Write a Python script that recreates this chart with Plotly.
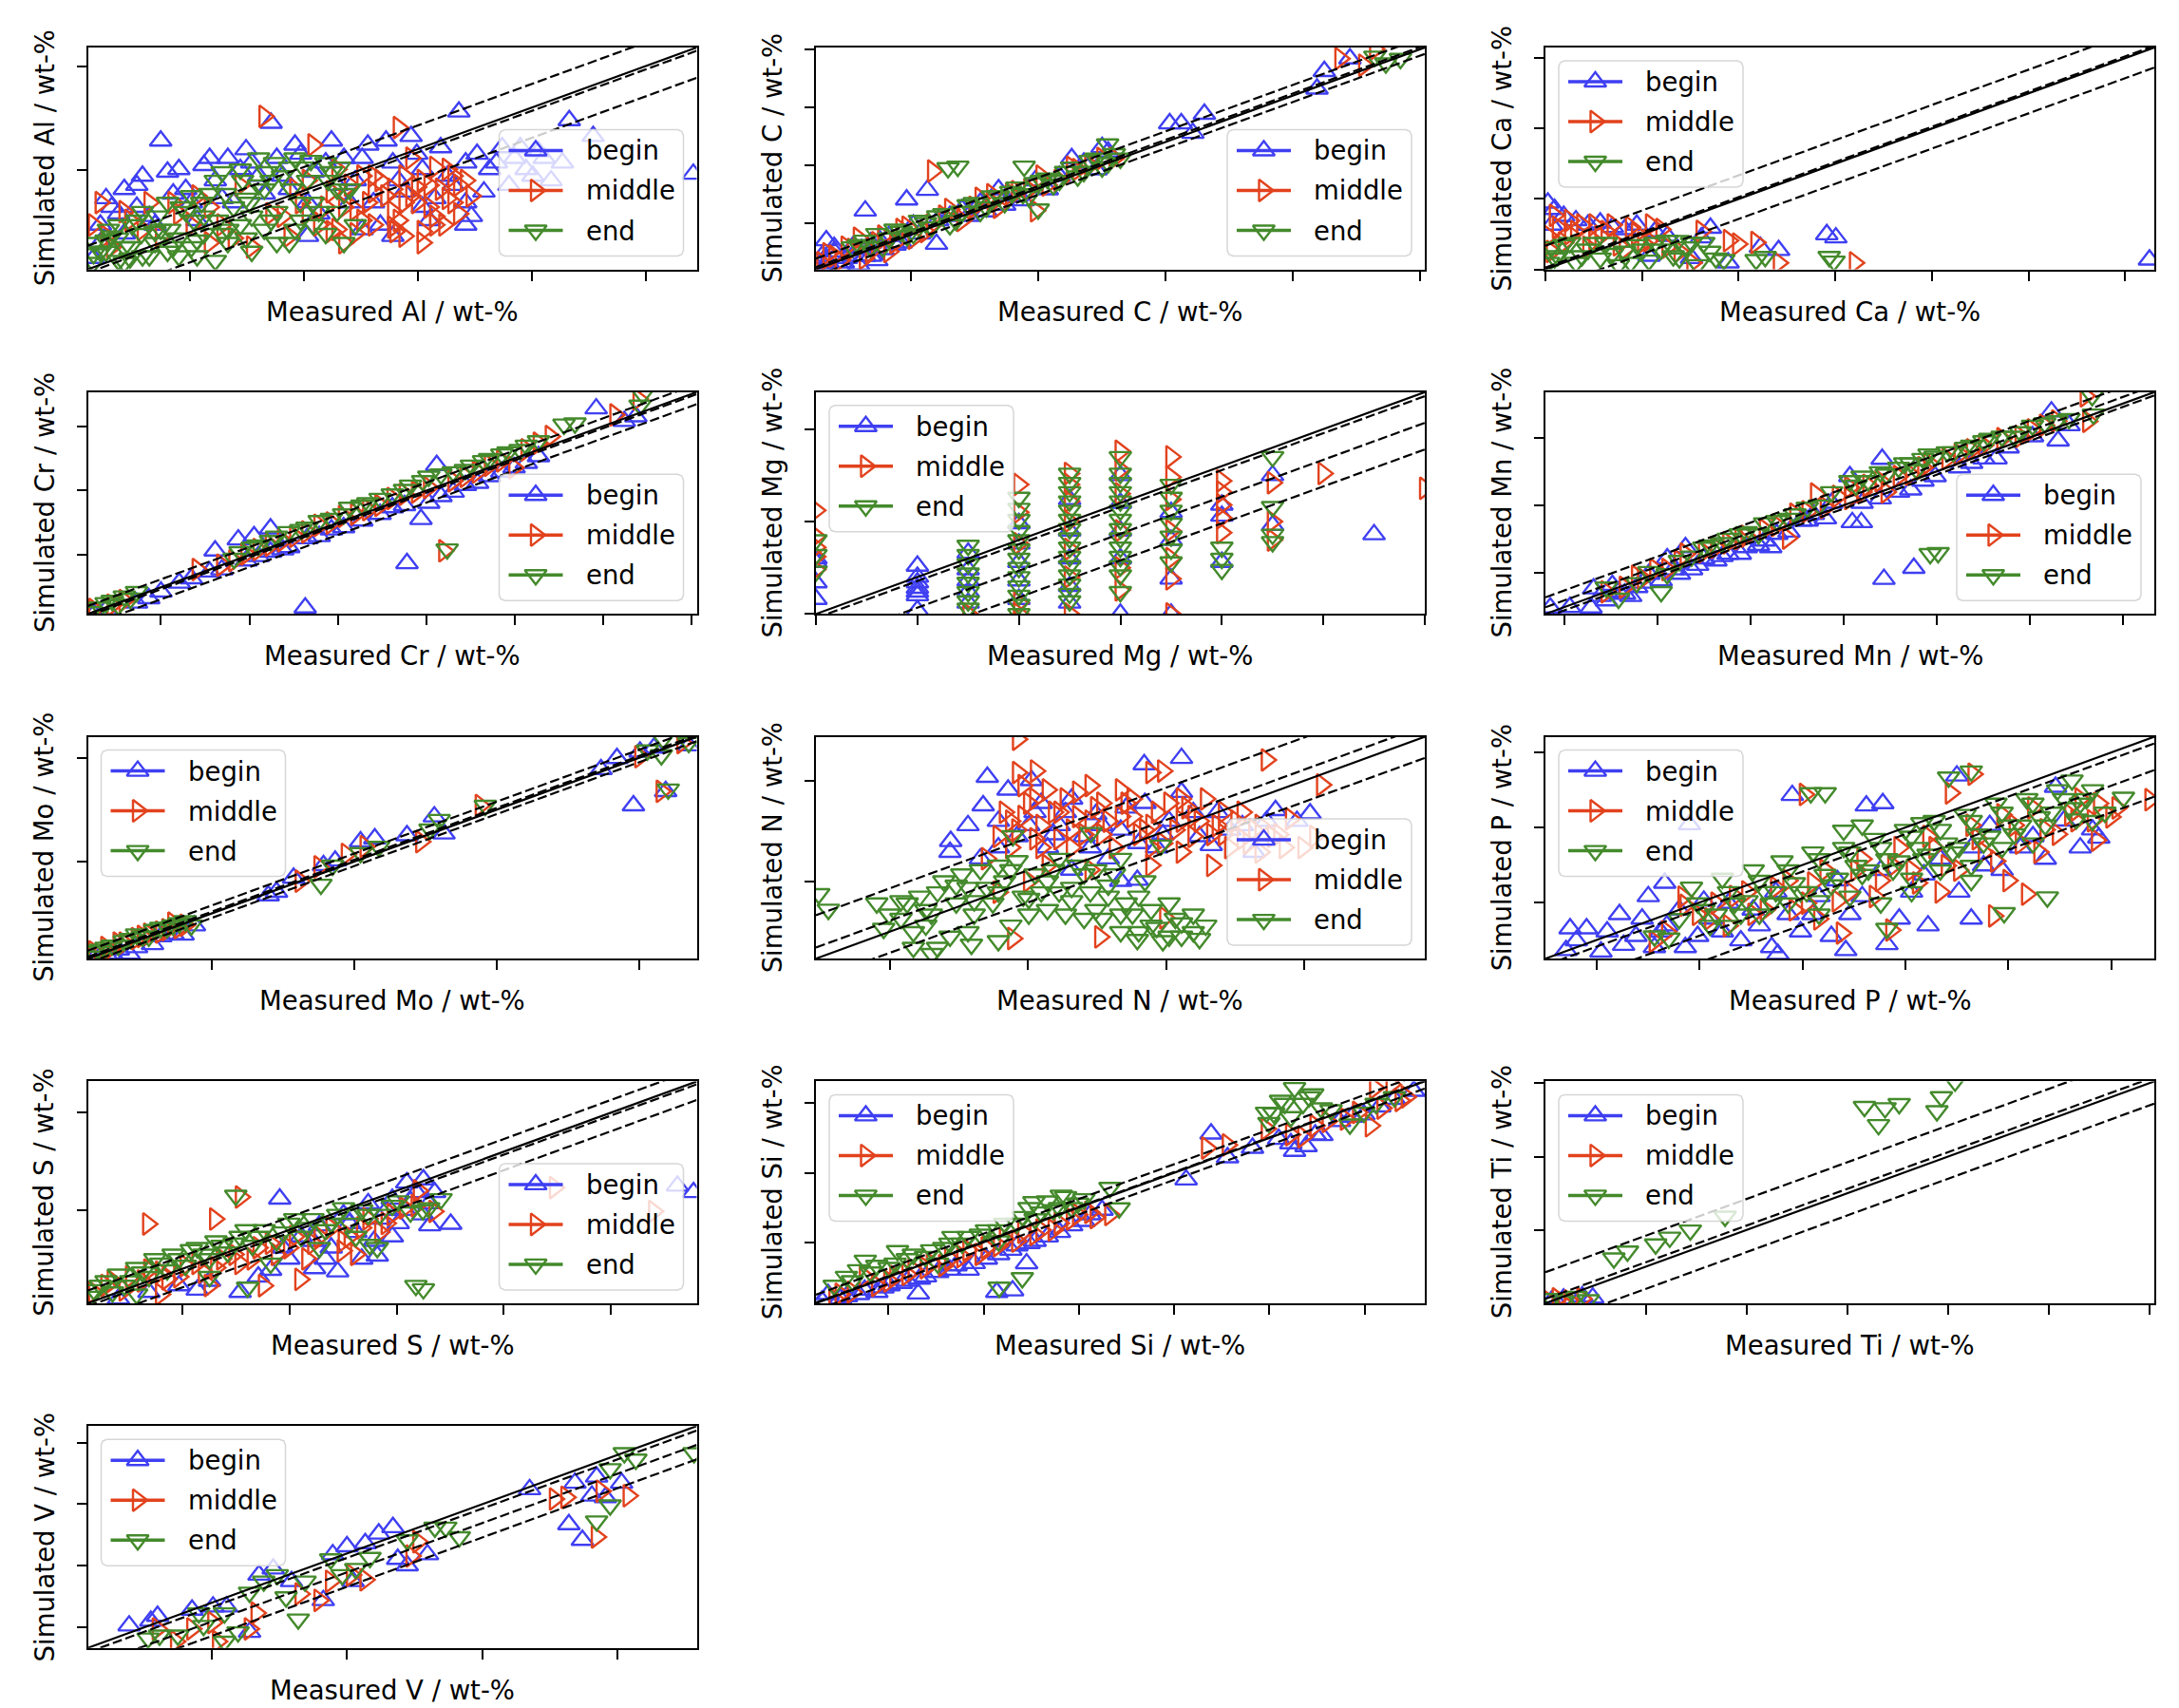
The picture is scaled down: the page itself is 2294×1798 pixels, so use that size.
import plotly.graph_objects as go

W, H = 2294, 1798
FONT = "DejaVu Sans"
FS = 27.5
C_BEGIN, C_MIDDLE, C_END = "#3f3ff2", "#e2421d", "#448a2c"
SERIES = ["begin", "middle", "end"]
SYMBOLS = ["triangle-up-open", "triangle-right-open", "triangle-down-open"]

# ---------------- Al ----------------
AL_LIM = [0.001, 0.0545]
AL_XT = [0.01, 0.02, 0.03, 0.04, 0.05]
AL_YT = [0.025, 0.05]
AL_OFF = [-0.0008, 0.0065]  # mean offset, std
AL_BEGIN_X = [0.0015, 0.0021, 0.0026, 0.0037, 0.0042, 0.0053, 0.0058, 0.0074, 0.0069, 0.0085, 0.0090, 0.0101, 0.0112, 0.0122, 0.0133, 0.0138, 0.0144, 0.0149, 0.0160, 0.0171, 0.0176, 0.0187, 0.0197, 0.0208, 0.0213, 0.0224, 0.0235, 0.0240, 0.0245, 0.0256, 0.0267, 0.0278, 0.0288, 0.0294, 0.0304, 0.0310, 0.0320, 0.0331, 0.0336, 0.0342, 0.0347, 0.0352, 0.0363, 0.0374, 0.0385, 0.0395, 0.0406, 0.0433, 0.0417, 0.0454, 0.0542, 0.0251, 0.0203, 0.0278,
              0.0021, 0.0031, 0.0042, 0.0053, 0.0064, 0.0080, 0.0096, 0.0106, 0.0117, 0.0128, 0.0154, 0.0165, 0.0181, 0.0192, 0.0203, 0.0219, 0.0229, 0.0251, 0.0261, 0.0272, 0.0283, 0.0299, 0.0315, 0.0326, 0.0342, 0.0358, 0.0369, 0.0380, 0.0390, 0.0401, 0.0411, 0.0427, 0.0342, 0.0304]
AL_BEGIN_Y = [0.0037, 0.0117, 0.0181, 0.0144, 0.0203, 0.0160, 0.0235, 0.0320, 0.0117, 0.0192, 0.0251, 0.0171, 0.0261, 0.0224, 0.0278, 0.0171, 0.0251, 0.0299, 0.0235, 0.0363, 0.0278, 0.0203, 0.0288, 0.0245, 0.0144, 0.0320, 0.0278, 0.0171, 0.0224, 0.0310, 0.0117, 0.0267, 0.0197, 0.0331, 0.0251, 0.0128, 0.0304, 0.0213, 0.0390, 0.0171, 0.0138, 0.0288, 0.0251, 0.0304, 0.0278, 0.0251, 0.0294, 0.0369, 0.0224, 0.0331, 0.0240, 0.0106, 0.0090, 0.0090,
              0.0074, 0.0160, 0.0096, 0.0213, 0.0138, 0.0245, 0.0203, 0.0128, 0.0278, 0.0181, 0.0267, 0.0192, 0.0235, 0.0310, 0.0171, 0.0267, 0.0213, 0.0278, 0.0171, 0.0320, 0.0224, 0.0288, 0.0181, 0.0235, 0.0267, 0.0197, 0.0267, 0.0213, 0.0304, 0.0235, 0.0278, 0.0267, 0.0117, 0.0160]
AL_MIDDLE_X = [0.0015, 0.0021, 0.0031, 0.0047, 0.0064, 0.0074, 0.0090, 0.0106, 0.0117, 0.0128, 0.0144, 0.0154, 0.0165, 0.0171, 0.0187, 0.0197, 0.0208, 0.0213, 0.0224, 0.0235, 0.0245, 0.0251, 0.0261, 0.0272, 0.0278, 0.0283, 0.0288, 0.0299, 0.0304, 0.0310, 0.0315, 0.0326, 0.0331, 0.0342, 0.0323, 0.0280, 0.0261, 0.0294, 0.0229, 0.0203,
               0.0026, 0.0042, 0.0058, 0.0085, 0.0101, 0.0117, 0.0138, 0.0181, 0.0192, 0.0219, 0.0229, 0.0240, 0.0256, 0.0267, 0.0278, 0.0283, 0.0294, 0.0304, 0.0310, 0.0320, 0.0331, 0.0336, 0.0347, 0.0315, 0.0245, 0.0288,
               0.0203, 0.0224, 0.0235, 0.0251, 0.0261, 0.0278, 0.0288, 0.0299, 0.0315, 0.0326, 0.0336, 0.0304]
AL_MIDDLE_Y = [0.0117, 0.0171, 0.0064, 0.0128, 0.0171, 0.0090, 0.0144, 0.0187, 0.0074, 0.0117, 0.0213, 0.0064, 0.0379, 0.0144, 0.0090, 0.0171, 0.0310, 0.0117, 0.0197, 0.0074, 0.0154, 0.0235, 0.0117, 0.0187, 0.0149, 0.0352, 0.0235, 0.0171, 0.0101, 0.0213, 0.0138, 0.0251, 0.0171, 0.0224, 0.0117, 0.0101, 0.0197, 0.0278, 0.0251, 0.0224,
               0.0090, 0.0149, 0.0106, 0.0171, 0.0117, 0.0160, 0.0085, 0.0138, 0.0203, 0.0160, 0.0106, 0.0213, 0.0171, 0.0224, 0.0203, 0.0128, 0.0187, 0.0224, 0.0160, 0.0203, 0.0235, 0.0144, 0.0187, 0.0256, 0.0096, 0.0090,
               0.0144, 0.0101, 0.0160, 0.0128, 0.0235, 0.0112, 0.0171, 0.0208, 0.0117, 0.0181, 0.0213, 0.0074]
AL_END_X = [0.0015, 0.0016, 0.0026, 0.0028, 0.0037, 0.0036, 0.0047, 0.0049, 0.0058, 0.0057, 0.0069, 0.0071, 0.0080, 0.0082, 0.0090, 0.0092, 0.0101, 0.0103, 0.0112, 0.0110, 0.0122, 0.0124, 0.0133, 0.0131, 0.0144, 0.0146, 0.0154, 0.0152, 0.0165, 0.0167, 0.0176, 0.0174, 0.0187, 0.0189, 0.0197, 0.0199, 0.0208, 0.0206, 0.0219, 0.0221, 0.0229, 0.0231, 0.0240, 0.0245, 0.0235,
            0.0021, 0.0031, 0.0042, 0.0053, 0.0064, 0.0074, 0.0085, 0.0096, 0.0106, 0.0117, 0.0128, 0.0138, 0.0149, 0.0160, 0.0171, 0.0181, 0.0192, 0.0203, 0.0213, 0.0224, 0.0235, 0.0171, 0.0149, 0.0106, 0.0042,
            0.0015, 0.0026, 0.0037, 0.0047, 0.0058, 0.0069, 0.0080, 0.0090, 0.0101, 0.0112, 0.0122, 0.0133, 0.0144, 0.0154, 0.0165, 0.0176, 0.0187, 0.0197, 0.0208, 0.0219, 0.0229, 0.0160, 0.0192, 0.0128]
AL_END_Y = [0.0026, 0.0074, 0.0053, 0.0106, 0.0031, 0.0085, 0.0064, 0.0117, 0.0042, 0.0096, 0.0074, 0.0138, 0.0053, 0.0106, 0.0085, 0.0160, 0.0064, 0.0128, 0.0096, 0.0171, 0.0031, 0.0128, 0.0074, 0.0192, 0.0117, 0.0224, 0.0053, 0.0171, 0.0106, 0.0245, 0.0149, 0.0267, 0.0074, 0.0203, 0.0128, 0.0256, 0.0171, 0.0272, 0.0096, 0.0224, 0.0149, 0.0256, 0.0203, 0.0117, 0.0074,
            0.0053, 0.0090, 0.0064, 0.0128, 0.0042, 0.0106, 0.0064, 0.0149, 0.0080, 0.0192, 0.0096, 0.0160, 0.0085, 0.0213, 0.0128, 0.0235, 0.0106, 0.0224, 0.0149, 0.0245, 0.0192, 0.0224, 0.0181, 0.0042, 0.0026,
            0.0047, 0.0080, 0.0117, 0.0037, 0.0149, 0.0101, 0.0171, 0.0042, 0.0187, 0.0138, 0.0224, 0.0106, 0.0251, 0.0138, 0.0203, 0.0074, 0.0256, 0.0171, 0.0117, 0.0267, 0.0203, 0.0278, 0.0278, 0.0245]

# ---------------- C ----------------
C_LIM = [0.05, 1.008]
C_XT = [0.2, 0.4, 0.6, 0.8, 1.0]
C_YT = [0.25, 0.5, 0.75, 1.0]
C_OFF = [0.0091, 0.0369]
C_BEGIN_X = [0.0548, 0.0596, 0.0663, 0.0692, 0.0787, 0.0883, 0.0979, 0.1075, 0.1171, 0.1266, 0.1276, 0.1362, 0.1458, 0.1554, 0.1650, 0.1927, 0.1841, 0.2033, 0.2253, 0.2397, 0.2416, 0.2608, 0.2895, 0.3087, 0.3374, 0.3470, 0.3661, 0.3949, 0.4140, 0.4524, 0.4715, 0.5003, 0.5098, 0.6066, 0.6248, 0.6430, 0.6612, 0.8384, 0.8499, 0.8902,
             0.0644, 0.0787, 0.0931, 0.1075, 0.1219, 0.1362, 0.1506, 0.1745, 0.2129, 0.2799, 0.3182, 0.3757, 0.4332, 0.4907]
C_BEGIN_Y = [0.0692, 0.1075, 0.1745, 0.0787, 0.1266, 0.0596, 0.0979, 0.1458, 0.0692, 0.1075, 0.3029, 0.1650, 0.0883, 0.1362, 0.1937, 0.3508, 0.1650, 0.2416, 0.3920, 0.1592, 0.2608, 0.2799, 0.2799, 0.3374, 0.3949, 0.3278, 0.3661, 0.4332, 0.3949, 0.5290, 0.5098, 0.5769, 0.5577, 0.6794, 0.6794, 0.6382, 0.7206, 0.8298, 0.9055, 0.9601,
             0.0979, 0.1458, 0.0787, 0.1075, 0.1362, 0.1075, 0.1745, 0.1554, 0.2033, 0.3087, 0.2991, 0.3470, 0.4524, 0.4811]
C_MIDDLE_X = [0.0596, 0.0787, 0.0979, 0.1171, 0.1266, 0.1458, 0.1650, 0.1841, 0.2033, 0.2339, 0.2320, 0.2512, 0.2799, 0.3087, 0.3269, 0.3374, 0.3566, 0.3853, 0.3958, 0.4045, 0.4332, 0.4524, 0.4811, 0.5003, 0.8748, 0.9294, 0.9122,
              0.0692, 0.0883, 0.1075, 0.1362, 0.1554, 0.1745, 0.1937, 0.2224, 0.2608, 0.2991, 0.3278, 0.3661, 0.4140, 0.4619, 0.5194]
C_MIDDLE_Y = [0.0787, 0.1075, 0.1458, 0.1841, 0.0979, 0.1650, 0.1266, 0.2224, 0.1841, 0.4744, 0.2416, 0.2799, 0.2608, 0.3566, 0.3719, 0.3182, 0.3757, 0.3949, 0.3029, 0.4524, 0.4332, 0.4907, 0.5003, 0.5290, 0.9601, 1.0013, 0.9314,
              0.1171, 0.0883, 0.1362, 0.1266, 0.1937, 0.1650, 0.2320, 0.2129, 0.3087, 0.3182, 0.3374, 0.3853, 0.4140, 0.4811, 0.5290]
C_END_X = [0.2579, 0.2732, 0.3776, 0.5089, 0.3997, 0.9467, 0.9294, 0.9697, 0.1075, 0.1266, 0.1458, 0.1554, 0.1745, 0.1937, 0.2129, 0.2320, 0.2512, 0.2703, 0.2895, 0.3087, 0.3278, 0.3470, 0.3661, 0.3853, 0.4045, 0.4236, 0.4428, 0.4619, 0.4811, 0.5003, 0.5194, 0.5290,
           0.1171, 0.1362, 0.1650, 0.1841, 0.2033, 0.2224, 0.2416, 0.2608, 0.2799, 0.2991, 0.3182, 0.3374, 0.3566, 0.3757, 0.3949, 0.4140, 0.4332, 0.4524, 0.4715, 0.4907, 0.5098]
C_END_Y = [0.4878, 0.4945, 0.4945, 0.5903, 0.3096, 0.9400, 0.9697, 0.9601, 0.1458, 0.1745, 0.2033, 0.1458, 0.2224, 0.1937, 0.2608, 0.2320, 0.2895, 0.2608, 0.3278, 0.2991, 0.3661, 0.3374, 0.4045, 0.3661, 0.4332, 0.4140, 0.4715, 0.4524, 0.5194, 0.4907, 0.5482, 0.5290,
           0.1554, 0.1458, 0.1841, 0.2129, 0.2033, 0.2512, 0.2799, 0.2416, 0.2991, 0.3374, 0.3182, 0.3661, 0.3853, 0.3757, 0.4236, 0.4428, 0.4332, 0.4907, 0.4715, 0.5290, 0.5098]

# ---------------- Ca ----------------
CA_LIM = [0.0, 0.0063]
CA_XT = [0.0, 0.001, 0.002, 0.003, 0.004, 0.005, 0.006]
CA_YT = [0.0, 0.002, 0.004, 0.006]
CA_OFF = [0.00005, 0.00062]
CA_BEGIN_X = [0.000025, 0.000095, 0.000063, 0.000189, 0.000315, 0.000441, 0.000567, 0.000693, 0.000819, 0.000945, 0.001134, 0.00126, 0.001707, 0.001613, 0.002911, 0.003005, 0.002413, 0.002224, 0.00625, 0.00189, 0.001512, 0.001071]
CA_BEGIN_Y = [0.00189, 0.001707, 0.00126, 0.001512, 0.001386, 0.00126, 0.001323, 0.001197, 0.001134, 0.00126, 0.001071, 0.000945, 0.001172, 0.000901, 0.000989, 0.000901, 0.000542, 0.00063, 0.000271, 0.000189, 0.000315, 0.000378]
CA_MIDDLE_X = [0.000095, 0.000032, 0.000126, 0.000252, 0.000378, 0.000504, 0.00063, 0.000756, 0.000882, 0.00109, 0.001008, 0.00126, 0.001613, 0.001896, 0.00218, 0.002413, 0.0032, 0.001991, 0.001518, 0.001386,
               0.000063, 0.000189, 0.000315, 0.000441, 0.000567, 0.000693, 0.000819, 0.000945, 0.001071, 0.001197, 0.000504, 0.000252]
CA_MIDDLE_Y = [0.001531, 0.000945, 0.001197, 0.001008, 0.00126, 0.000819, 0.001071, 0.000693, 0.001197, 0.00126, 0.000756, 0.00063, 0.001077, 0.000813, 0.000762, 0.000183, 0.000183, 0.000718, 0.000183, 0.000504,
               0.000504, 0.000756, 0.001071, 0.00063, 0.000945, 0.00126, 0.000567, 0.001008, 0.000819, 0.001134, 0.00126, 0.001386]
CA_END_X = [0.000032, 0.000063, 0.000126, 0.000252, 0.000315, 0.000441, 0.000567, 0.00063, 0.000756, 0.000819, 0.000945, 0.001071, 0.001197, 0.00126, 0.001373, 0.001386, 0.001512, 0.001575, 0.001846, 0.00218, 0.002274, 0.002936, 0.002986, 0.001701,
            0.000095, 0.000189, 0.000378, 0.000504, 0.000693, 0.000882, 0.001008, 0.001134, 0.001323, 0.001449, 0.001638, 0.001764]
CA_END_Y = [0.000189, 0.00063, 0.000378, 0.000756, 0.000189, 0.000567, 0.000315, 0.000756, 0.000126, 0.000504, 0.000693, 0.000252, 0.000567, 0.000819, 0.000813, 0.000315, 0.000756, 0.000126, 0.000271, 0.000271, 0.000359, 0.000359, 0.000227, 0.000504,
            0.000315, 0.000693, 0.000378, 0.000756, 0.000441, 0.000189, 0.000567, 0.000756, 0.000378, 0.00063, 0.000756, 0.000315]

# ---------------- Cr ----------------
CR_LIM = [0.087, 3.527]
CR_XT = [0.5, 1.0, 1.5, 2.0, 2.5, 3.0, 3.5]
CR_YT = [1.0, 2.0, 3.0]
CR_OFF = [-0.031, 0.155]
CR_BEGIN_X = [0.121, 0.190, 0.362, 0.500, 0.603, 0.672, 0.775, 0.806, 0.937, 1.026, 1.119, 0.981, 1.119, 1.222, 1.315, 1.325, 1.463, 1.635, 1.807, 1.890, 1.969, 2.058, 2.013, 2.151, 2.289, 2.357, 2.495, 2.633, 2.959, 3.118, 3.183,
              0.844, 1.050, 1.188, 1.394, 1.532, 1.738, 1.876, 2.082, 2.220, 2.426, 2.564, 0.431]
CR_BEGIN_Y = [0.087, 0.156, 0.259, 0.431, 0.569, 0.637, 0.741, 1.067, 1.239, 1.288, 1.411, 0.913, 1.050, 1.119, 0.183, 1.257, 1.394, 1.532, 1.738, 0.871, 1.556, 2.392, 1.807, 1.979, 2.117, 2.220, 2.357, 2.529, 3.272, 3.076, 3.149,
              0.775, 0.981, 1.085, 1.291, 1.429, 1.635, 1.772, 1.910, 2.082, 2.289, 2.426, 0.328]
CR_MIDDLE_X = [0.121, 0.225, 0.293, 0.706, 0.844, 0.981, 1.119, 1.257, 1.394, 1.532, 1.669, 1.807, 1.945, 2.099, 2.151, 2.289, 2.426, 2.564, 2.701, 3.066, 3.197, 2.495,
               0.913, 1.050, 1.188, 1.325, 1.463, 1.601, 1.738, 1.876, 2.013, 2.220, 2.357, 2.633]
CR_MIDDLE_Y = [0.156, 0.225, 0.293, 0.775, 0.844, 1.016, 1.153, 1.291, 1.463, 1.601, 1.704, 1.876, 1.979, 1.067, 2.151, 2.289, 2.461, 2.633, 2.839, 3.173, 3.420, 2.357,
               0.913, 1.085, 1.222, 1.360, 1.497, 1.635, 1.772, 1.945, 2.048, 2.220, 2.392, 2.736]
CR_END_X = [0.104, 0.156, 0.190, 0.259, 0.328, 0.362, 0.913, 1.016, 1.119, 1.222, 1.325, 1.463, 1.566, 1.669, 1.807, 1.910, 2.013, 2.117, 2.151, 2.254, 2.357, 2.461, 2.564, 2.777, 2.839, 3.221, 3.207,
            0.947, 1.050, 1.153, 1.291, 1.394, 1.532, 1.635, 1.738, 1.876, 1.979, 2.082, 2.220, 2.323, 2.426, 2.529, 2.633, 0.225, 0.293]
CR_END_Y = [0.121, 0.190, 0.259, 0.225, 0.328, 0.431, 0.947, 1.119, 1.222, 1.360, 1.429, 1.566, 1.738, 1.807, 1.945, 2.082, 2.220, 1.091, 2.289, 2.392, 2.495, 2.598, 2.701, 3.028, 3.045, 3.493, 3.321,
            1.050, 1.153, 1.291, 1.394, 1.532, 1.635, 1.772, 1.876, 2.013, 2.151, 2.254, 2.323, 2.461, 2.564, 2.633, 2.770, 0.293, 0.362]

# ---------------- Mg ----------------
MG_LIM = [0.0, 0.0012]
MG_XT = [0.0, 0.0002, 0.0004, 0.0006, 0.0008, 0.0010, 0.0012]
MG_YT = [0.0, 0.0005, 0.0010]
MG_OFF = [-0.000166, 0.000144]
MG_BEGIN_X = [0.0, 0.0, 0.0, 0.0, 0.0002, 0.0002, 0.0002, 0.0002, 0.0002, 0.0002, 0.0002, 0.0003, 0.0003, 0.0003, 0.0003, 0.0003, 0.0004, 0.0004, 0.0004, 0.0004, 0.0004, 0.0005, 0.0005, 0.0005, 0.0005, 0.0005, 0.0006, 0.0006, 0.0006, 0.0006, 0.0006, 0.0007, 0.0007, 0.0007, 0.0007, 0.0008, 0.0008, 0.0008, 0.0009, 0.0009, 0.0011]
MG_BEGIN_Y = [0.00030, 0.00028, 0.00017, 0.00008, 0.00026, 0.00020, 0.00017, 0.00014, 0.00012, 0.00010, 0.00002, 0.00033, 0.00024, 0.00018, 0.00012, 0.00006, 0.00049, 0.00038, 0.00028, 0.00018, 0.00008, 0.00062, 0.00045, 0.00030, 0.00015, 0.00006, 0.00075, 0.00060, 0.00045, 0.00030, 0.0, 0.00055, 0.00040, 0.00019, 0.0, 0.00059, 0.00053, 0.00028, 0.00075, 0.00048, 0.00043]
MG_MIDDLE_X = [0.0, 0.0, 0.0, 0.0, 0.0, 0.0003, 0.0004, 0.0004, 0.0004, 0.0004, 0.0004, 0.0005, 0.0005, 0.0005, 0.0005, 0.0005, 0.0005, 0.0005, 0.0006, 0.0006, 0.0006, 0.0006, 0.0006, 0.0006, 0.0007, 0.0007, 0.0007, 0.0007, 0.0007, 0.0007, 0.0007, 0.0008, 0.0008, 0.0008, 0.0008, 0.0008, 0.0009, 0.0009, 0.0009, 0.0010, 0.0012]
MG_MIDDLE_Y = [0.00056, 0.00042, 0.00036, 0.00031, 0.00024, 0.0, 0.00070, 0.00055, 0.00038, 0.00006, 0.0, 0.00076, 0.00070, 0.00061, 0.00050, 0.00035, 0.00020, 0.0, 0.00088, 0.00078, 0.00065, 0.00045, 0.00025, 0.00013, 0.00085, 0.00074, 0.00062, 0.00045, 0.00030, 0.00019, 0.0, 0.00072, 0.00066, 0.00059, 0.00052, 0.00044, 0.00071, 0.00050, 0.00040, 0.00076, 0.00068]
MG_END_X = [0.0, 0.0, 0.0, 0.0003, 0.0003, 0.0003, 0.0003, 0.0003, 0.0003, 0.0003, 0.0003, 0.0004, 0.0004, 0.0004, 0.0004, 0.0004, 0.0004, 0.0004, 0.0004, 0.0004, 0.0004, 0.0004, 0.0004, 0.0004, 0.0005, 0.0005, 0.0005, 0.0005, 0.0005, 0.0005, 0.0005, 0.0005, 0.0005, 0.0005, 0.0005, 0.0005, 0.0005, 0.0005, 0.0005, 0.0006, 0.0006, 0.0006, 0.0006, 0.0006, 0.0006, 0.0006, 0.0006, 0.0006, 0.0006, 0.0006, 0.0006, 0.0006, 0.0006, 0.0007, 0.0007, 0.0007, 0.0007, 0.0007, 0.0007, 0.0007, 0.0008, 0.0008, 0.0008, 0.0009, 0.0009, 0.0009, 0.0009]
MG_END_Y = [0.00040, 0.00032, 0.00023, 0.00037, 0.00032, 0.00027, 0.00022, 0.00017, 0.00012, 0.00007, 0.00003, 0.00063, 0.00057, 0.00051, 0.00045, 0.00040, 0.00035, 0.00030, 0.00025, 0.00020, 0.00015, 0.00010, 0.00005, 0.0, 0.00076, 0.00071, 0.00066, 0.00061, 0.00056, 0.00051, 0.00046, 0.00041, 0.00036, 0.00031, 0.00026, 0.00021, 0.00016, 0.00011, 0.00007, 0.00085, 0.00076, 0.00071, 0.00066, 0.00061, 0.00056, 0.00051, 0.00046, 0.00041, 0.00036, 0.00031, 0.00026, 0.00021, 0.00012, 0.00070, 0.00063, 0.00056, 0.00049, 0.00042, 0.00035, 0.00028, 0.00036, 0.00030, 0.00024, 0.00085, 0.00058, 0.00043, 0.00039]

# ---------------- Mn ----------------
MN_LIM = [0.28, 0.934]
MN_XT = [0.3, 0.4, 0.5, 0.6, 0.7, 0.8, 0.9]
MN_YT = [0.4, 0.6, 0.8]
MN_OFF = [0.0196, 0.0294]
MN_BEGIN_X = [0.2852, 0.3062, 0.3290, 0.3317, 0.3454, 0.3585, 0.3716, 0.3846, 0.4043, 0.4108, 0.4239, 0.4435, 0.4304, 0.4631, 0.4762, 0.4958, 0.5154, 0.5285, 0.5547, 0.5678, 0.5874, 0.6070, 0.6096, 0.6194, 0.6417, 0.6397, 0.6436, 0.6724, 0.6757, 0.6855, 0.7247, 0.7509, 0.7770, 0.8032, 0.8307, 0.8235, 0.8424,
              0.3389, 0.3519, 0.3650, 0.3781, 0.3912, 0.4173, 0.4370, 0.4500, 0.4697, 0.4893, 0.5089, 0.5220, 0.5416, 0.5612, 0.5808, 0.6201, 0.6593, 0.6986, 0.7378, 0.7640]
MN_BEGIN_Y = [0.2983, 0.2996, 0.2983, 0.3546, 0.3192, 0.3454, 0.3323, 0.3716, 0.3781, 0.4435, 0.3977, 0.4239, 0.4762, 0.4370, 0.4566, 0.4762, 0.4958, 0.5154, 0.5547, 0.5743, 0.6070, 0.6855, 0.5501, 0.5501, 0.7365, 0.6201, 0.3827, 0.6462, 0.4154, 0.6724, 0.7116, 0.7378, 0.7705, 0.8032, 0.7908, 0.8764, 0.8359,
              0.3323, 0.3650, 0.3389, 0.3585, 0.3977, 0.4108, 0.4108, 0.4435, 0.4500, 0.4566, 0.4827, 0.4762, 0.5220, 0.5547, 0.5612, 0.6070, 0.6397, 0.6855, 0.7247, 0.7378]
MN_MIDDLE_X = [0.3454, 0.3650, 0.3781, 0.3977, 0.4108, 0.4304, 0.4500, 0.4762, 0.4958, 0.5154, 0.5403, 0.5481, 0.5704, 0.5808, 0.6070, 0.6070, 0.6266, 0.6462, 0.6724, 0.6920, 0.7116, 0.7378, 0.7705, 0.8032, 0.8294, 0.8601, 0.8627,
               0.3846, 0.4239, 0.4631, 0.4893, 0.5285, 0.5612, 0.5939, 0.6201, 0.6397, 0.6593, 0.6855, 0.7247, 0.7509, 0.7901, 0.8163]
MN_MIDDLE_Y = [0.3454, 0.3585, 0.3912, 0.4108, 0.4108, 0.4566, 0.4631, 0.4893, 0.5089, 0.5285, 0.5037, 0.5743, 0.6338, 0.5939, 0.6201, 0.6528, 0.6593, 0.6397, 0.6920, 0.7247, 0.7378, 0.7640, 0.7967, 0.8228, 0.8490, 0.9229, 0.8483,
               0.3846, 0.4370, 0.4762, 0.5024, 0.5416, 0.5810, 0.6266, 0.6397, 0.6724, 0.6855, 0.7116, 0.7509, 0.7770, 0.8032, 0.8359]
MN_END_X = [0.3454, 0.3585, 0.4043, 0.4108, 0.4370, 0.4566, 0.4762, 0.4958, 0.5089, 0.5285, 0.5481, 0.5743, 0.6070, 0.6201, 0.6397, 0.6593, 0.6724, 0.6855, 0.6986, 0.7182, 0.7378, 0.7574, 0.7836, 0.8032, 0.8294, 0.6933, 0.7018, 0.8673, 0.8686,
            0.3781, 0.3912, 0.4239, 0.4500, 0.4697, 0.4893, 0.5154, 0.5416, 0.5612, 0.5874, 0.6135, 0.6266, 0.6462, 0.6659, 0.6789, 0.6920, 0.7116, 0.7313, 0.7509, 0.7705, 0.7901, 0.8163, 0.8424]
MN_END_Y = [0.3585, 0.3258, 0.3454, 0.3977, 0.4500, 0.4827, 0.5024, 0.5220, 0.5154, 0.5547, 0.5743, 0.6005, 0.6724, 0.6855, 0.6986, 0.7116, 0.7247, 0.7378, 0.7443, 0.7574, 0.7770, 0.7967, 0.8032, 0.8359, 0.8490, 0.4572, 0.4599, 0.9229, 0.8686,
            0.3716, 0.4043, 0.4370, 0.4762, 0.4893, 0.5154, 0.5481, 0.5612, 0.5939, 0.6397, 0.6593, 0.6724, 0.6920, 0.7247, 0.7051, 0.7509, 0.7574, 0.7705, 0.7901, 0.8032, 0.8163, 0.8424, 0.8555]

# ---------------- Mo ----------------
MO_LIM = [0.0066, 0.2203]
MO_XT = [0.05, 0.10, 0.15, 0.20]
MO_YT = [0.1, 0.2]
MO_OFF = [0.0017, 0.0060]
MO_BEGIN_X = [0.0087, 0.0130, 0.0211, 0.0293, 0.0400, 0.0440, 0.0173, 0.0322, 0.0699, 0.0728, 0.0788, 0.0893, 0.0934, 0.1023, 0.1073, 0.1186, 0.1282, 0.1316, 0.1867, 0.1923, 0.1981, 0.2094, 0.2004, 0.2175, 0.2053,
              0.0109, 0.0151, 0.0237, 0.0365]
MO_BEGIN_Y = [0.0066, 0.0109, 0.0111, 0.0203, 0.0295, 0.0384, 0.0151, 0.0280, 0.0673, 0.0707, 0.0842, 0.0964, 0.1008, 0.1192, 0.1222, 0.1252, 0.1434, 0.1269, 0.1889, 0.1996, 0.1541, 0.1677, 0.2058, 0.2118, 0.2096,
              0.0087, 0.0109, 0.0173, 0.0301]
MO_MIDDLE_X = [0.0087, 0.0130, 0.0173, 0.0237, 0.0280, 0.0344, 0.0387, 0.0812, 0.0878, 0.0974, 0.1040, 0.1235, 0.1444, 0.2004, 0.2079, 0.2152, 0.0109,
               0.0130, 0.0194, 0.0258, 0.0322, 0.0365, 0.0408]
MO_MIDDLE_Y = [0.0130, 0.0173, 0.0216, 0.0258, 0.0301, 0.0344, 0.0365, 0.0812, 0.0949, 0.1070, 0.1145, 0.1192, 0.1541, 0.2011, 0.1677, 0.2147, 0.0109,
               0.0130, 0.0216, 0.0280, 0.0322, 0.0408, 0.0387]
MO_END_X = [0.0077, 0.0109, 0.0151, 0.0194, 0.0237, 0.0280, 0.0322, 0.0365, 0.0408, 0.0884, 0.0925, 0.1023, 0.1087, 0.1267, 0.1299, 0.1461, 0.2030, 0.2079, 0.2103, 0.2175, 0.2085,
            0.0087, 0.0130, 0.0173, 0.0216, 0.0258, 0.0301, 0.0344, 0.0387, 0.0429]
MO_END_Y = [0.0087, 0.0151, 0.0194, 0.0237, 0.0301, 0.0280, 0.0365, 0.0387, 0.0429, 0.0780, 0.0964, 0.1085, 0.1145, 0.1312, 0.1404, 0.1541, 0.2073, 0.2028, 0.1697, 0.2147, 0.2182,
            0.0130, 0.0173, 0.0194, 0.0258, 0.0280, 0.0344, 0.0365, 0.0408, 0.0387]

# ---------------- N ----------------
N_LIM = [0.00493, 0.01374]
N_XT = [0.006, 0.008, 0.010, 0.012]
N_YT = [0.008, 0.012]
N_OFF = [0.00044, 0.00128]
N_BEGIN_X = [0.00688, 0.00687, 0.00735, 0.00741, 0.00757, 0.00771, 0.00784, 0.00805, 0.00810, 0.00828, 0.00845, 0.00863, 0.00881, 0.00898, 0.00916, 0.00934, 0.00958, 0.00968, 0.00969, 0.00986, 0.01004, 0.01022, 0.01022, 0.01048, 0.01065, 0.01074, 0.01110, 0.01127, 0.01158, 0.01208, 0.01189, 0.00863, 0.00934,
             0.00713, 0.00731, 0.00801, 0.00819, 0.00837, 0.00854, 0.00890, 0.00907, 0.00942, 0.00960, 0.00995, 0.01039, 0.01092, 0.01145, 0.00757]
N_BEGIN_Y = [0.00959, 0.00916, 0.01101, 0.01214, 0.01039, 0.01163, 0.00978, 0.01201, 0.01074, 0.00934, 0.01022, 0.01127, 0.00978, 0.01066, 0.00890, 0.01004, 0.00805, 0.01264, 0.01110, 0.00934, 0.01039, 0.01289, 0.01154, 0.00978, 0.00943, 0.01074, 0.01022, 0.00916, 0.01082, 0.01069, 0.01039, 0.00845, 0.00801,
             0.01022, 0.00890, 0.01022, 0.01110, 0.00986, 0.01074, 0.00934, 0.01022, 0.01092, 0.00951, 0.00986, 0.01074, 0.01004, 0.01039, 0.00934]
N_MIDDLE_X = [0.00785, 0.00785, 0.00811, 0.00757, 0.00775, 0.00801, 0.00819, 0.00828, 0.00845, 0.00863, 0.00872, 0.00890, 0.00907, 0.00925, 0.00934, 0.00951, 0.00969, 0.00978, 0.00995, 0.01004, 0.01022, 0.01039, 0.01057, 0.01074, 0.01092, 0.01110, 0.01127, 0.01145, 0.01154, 0.01180, 0.01225, 0.01198, 0.00998, 0.00778, 0.00904, 0.00740, 0.00890, 0.00978, 0.01066,
              0.00766, 0.00784, 0.00793, 0.00810, 0.00837, 0.00854, 0.00881, 0.00898, 0.00916, 0.00942, 0.00960, 0.00986, 0.01013, 0.01030, 0.01048, 0.01083, 0.01101, 0.01119, 0.01136, 0.01163, 0.01171, 0.01215, 0.00978, 0.01022, 0.00863, 0.00828, 0.00801, 0.00757,
              0.00775, 0.00793, 0.00810, 0.00845, 0.00872, 0.00890, 0.00907, 0.00934, 0.00951, 0.00978, 0.00995, 0.01022, 0.01039, 0.01066, 0.01083, 0.01110, 0.01136, 0.00819]
N_MIDDLE_Y = [0.01364, 0.01232, 0.01238, 0.00978, 0.01039, 0.01110, 0.00934, 0.01163, 0.01074, 0.01004, 0.01154, 0.01039, 0.01110, 0.00934, 0.01163, 0.01057, 0.01004, 0.01232, 0.01238, 0.01110, 0.01039, 0.00978, 0.01127, 0.01022, 0.00934, 0.01074, 0.01004, 0.01282, 0.00978, 0.01048, 0.01183, 0.00934, 0.00655, 0.00573, 0.00579, 0.00890, 0.00845, 0.00863, 0.00863,
              0.01074, 0.01004, 0.01180, 0.00969, 0.01074, 0.01127, 0.00986, 0.01092, 0.01039, 0.01110, 0.00986, 0.01074, 0.01004, 0.01092, 0.01039, 0.00986, 0.01039, 0.00951, 0.01022, 0.00986, 0.00934, 0.00978, 0.00934, 0.00916, 0.00934, 0.00863, 0.00801, 0.00757,
              0.00934, 0.01057, 0.01127, 0.00969, 0.01057, 0.01180, 0.00986, 0.01057, 0.01127, 0.01022, 0.00951, 0.01127, 0.01057, 0.00986, 0.01074, 0.00969, 0.00916, 0.01022]
N_END_X = [0.00497, 0.00511, 0.00591, 0.00718, 0.00661, 0.00958, 0.00992, 0.00778, 0.00891, 0.00599, 0.00625, 0.00652, 0.00669, 0.00687, 0.00704, 0.00722, 0.00740, 0.00757, 0.00775, 0.00793, 0.00810, 0.00828, 0.00845, 0.00863, 0.00881, 0.00898, 0.00916, 0.00934, 0.00951, 0.00969, 0.00986, 0.01004, 0.01022, 0.01039, 0.00934, 0.00757, 0.00634,
           0.00581, 0.00616, 0.00643, 0.00660, 0.00678, 0.00696, 0.00713, 0.00731, 0.00749, 0.00766, 0.00784, 0.00801, 0.00819, 0.00837, 0.00854, 0.00872, 0.00890, 0.00907, 0.00925, 0.00942, 0.00960, 0.00978, 0.00995, 0.01013, 0.01039, 0.01057, 0.00845, 0.00713, 0.00669, 0.00634,
           0.00757, 0.00775, 0.00801, 0.00828, 0.00863, 0.00881, 0.00898, 0.00916, 0.00934, 0.00960, 0.00978, 0.01004, 0.01022, 0.01048, 0.00722, 0.00696, 0.00652, 0.00616]
N_END_Y = [0.00750, 0.00688, 0.00612, 0.00549, 0.00512, 0.00568, 0.00943, 0.00980, 0.00993, 0.00669, 0.00713, 0.00625, 0.00757, 0.00581, 0.00828, 0.00669, 0.00775, 0.00863, 0.00625, 0.00740, 0.00828, 0.00687, 0.00890, 0.00775, 0.00652, 0.00845, 0.00740, 0.00599, 0.00669, 0.00801, 0.00616, 0.00713, 0.00581, 0.00669, 0.00890, 0.00563, 0.00537,
           0.00713, 0.00652, 0.00740, 0.00669, 0.00801, 0.00713, 0.00775, 0.00845, 0.00713, 0.00801, 0.00881, 0.00669, 0.00757, 0.00845, 0.00669, 0.00863, 0.00757, 0.00652, 0.00828, 0.00713, 0.00599, 0.00687, 0.00563, 0.00652, 0.00599, 0.00625, 0.00757, 0.00599, 0.00537, 0.00599,
           0.00757, 0.00845, 0.00731, 0.00801, 0.00722, 0.00828, 0.00687, 0.00784, 0.00669, 0.00740, 0.00625, 0.00581, 0.00634, 0.00572, 0.00722, 0.00784, 0.00687, 0.00722]

# ---------------- P ----------------
P_LIM = [0.0025, 0.0321]
P_XT = [0.005, 0.010, 0.015, 0.020, 0.025, 0.030]
P_YT = [0.01, 0.02, 0.03]
P_OFF = [-0.00444, 0.00355]
P_BEGIN_X = [0.0037, 0.0045, 0.0035, 0.0052, 0.0061, 0.0075, 0.0083, 0.0095, 0.0145, 0.0181, 0.0189, 0.0225, 0.0273, 0.0294, 0.0232, 0.0211, 0.0171, 0.0138, 0.0191, 0.0069, 0.0078, 0.0084, 0.0090, 0.0099, 0.0105, 0.0114, 0.0120, 0.0129, 0.0137, 0.0143, 0.0149, 0.0158, 0.0167, 0.0173, 0.0188, 0.0203, 0.0217, 0.0232, 0.0247, 0.0262, 0.0277, 0.0285, 0.0241,
             0.0040, 0.0055, 0.0063, 0.0072, 0.0081, 0.0093, 0.0102, 0.0111, 0.0126, 0.0135, 0.0155, 0.0164, 0.0179, 0.0197, 0.0209, 0.0226, 0.0238, 0.0256, 0.0268, 0.0291]
P_BEGIN_Y = [0.0065, 0.0065, 0.0036, 0.0034, 0.0084, 0.0108, 0.0126, 0.0204, 0.0243, 0.0229, 0.0232, 0.0269, 0.0254, 0.0186, 0.0078, 0.0069, 0.0036, 0.0031, 0.0044, 0.0055, 0.0040, 0.0069, 0.0090, 0.0055, 0.0078, 0.0099, 0.0049, 0.0069, 0.0114, 0.0084, 0.0061, 0.0108, 0.0129, 0.0084, 0.0143, 0.0114, 0.0158, 0.0173, 0.0143, 0.0188, 0.0209, 0.0173, 0.0203,
             0.0049, 0.0061, 0.0043, 0.0078, 0.0061, 0.0040, 0.0102, 0.0061, 0.0090, 0.0040, 0.0084, 0.0055, 0.0108, 0.0078, 0.0137, 0.0114, 0.0149, 0.0173, 0.0158, 0.0197]
P_MIDDLE_X = [0.0151, 0.0222, 0.0233, 0.0319, 0.0293, 0.0259, 0.0243, 0.0169, 0.0193, 0.0092, 0.0078, 0.0099, 0.0108, 0.0114, 0.0123, 0.0132, 0.0143, 0.0152, 0.0161, 0.0173, 0.0179, 0.0188, 0.0197, 0.0203, 0.0211, 0.0220, 0.0232, 0.0238, 0.0247, 0.0256, 0.0262, 0.0268, 0.0280, 0.0285, 0.0291, 0.0303, 0.0217, 0.0158,
              0.0084, 0.0093, 0.0105, 0.0117, 0.0126, 0.0137, 0.0146, 0.0155, 0.0167, 0.0176, 0.0185, 0.0194, 0.0206, 0.0214, 0.0226, 0.0235, 0.0244, 0.0253, 0.0265, 0.0274, 0.0283, 0.0294, 0.0300, 0.0250]
P_MIDDLE_Y = [0.0244, 0.0246, 0.0271, 0.0237, 0.0183, 0.0111, 0.0082, 0.0059, 0.0063, 0.0107, 0.0048, 0.0084, 0.0099, 0.0069, 0.0114, 0.0090, 0.0129, 0.0099, 0.0143, 0.0114, 0.0158, 0.0129, 0.0173, 0.0143, 0.0188, 0.0149, 0.0203, 0.0167, 0.0217, 0.0179, 0.0226, 0.0197, 0.0217, 0.0238, 0.0209, 0.0226, 0.0114, 0.0078,
              0.0061, 0.0096, 0.0078, 0.0108, 0.0084, 0.0120, 0.0090, 0.0126, 0.0102, 0.0143, 0.0108, 0.0149, 0.0126, 0.0173, 0.0143, 0.0185, 0.0155, 0.0203, 0.0167, 0.0191, 0.0209, 0.0232, 0.0214, 0.0129]
P_END_X = [0.0154, 0.0161, 0.0232, 0.0221, 0.0281, 0.0306, 0.0269, 0.0248, 0.0191, 0.0085, 0.0078, 0.0170, 0.0208, 0.0099, 0.0105, 0.0114, 0.0120, 0.0129, 0.0135, 0.0143, 0.0149, 0.0158, 0.0164, 0.0173, 0.0179, 0.0188, 0.0194, 0.0203, 0.0209, 0.0217, 0.0223, 0.0232, 0.0238, 0.0247, 0.0253, 0.0262, 0.0268, 0.0277, 0.0283, 0.0291, 0.0297, 0.0203, 0.0232, 0.0158, 0.0179,
           0.0090, 0.0096, 0.0102, 0.0111, 0.0117, 0.0126, 0.0132, 0.0140, 0.0146, 0.0155, 0.0161, 0.0170, 0.0176, 0.0185, 0.0191, 0.0200, 0.0206, 0.0214, 0.0220, 0.0229, 0.0235, 0.0244, 0.0250, 0.0259, 0.0265, 0.0274, 0.0280, 0.0288, 0.0188, 0.0217, 0.0247, 0.0143, 0.0114,
           0.0108, 0.0123, 0.0137, 0.0152, 0.0167, 0.0182, 0.0197, 0.0211, 0.0226, 0.0241, 0.0256, 0.0271, 0.0285, 0.0173, 0.0203, 0.0232, 0.0262, 0.0291, 0.0129, 0.0158]
P_END_Y = [0.0246, 0.0246, 0.0275, 0.0267, 0.0263, 0.0240, 0.0107, 0.0086, 0.0065, 0.0052, 0.0055, 0.0196, 0.0206, 0.0099, 0.0069, 0.0114, 0.0084, 0.0129, 0.0099, 0.0143, 0.0114, 0.0158, 0.0123, 0.0167, 0.0137, 0.0173, 0.0143, 0.0188, 0.0158, 0.0197, 0.0167, 0.0209, 0.0179, 0.0220, 0.0191, 0.0232, 0.0203, 0.0238, 0.0211, 0.0250, 0.0220, 0.0114, 0.0129, 0.0084, 0.0203,
           0.0078, 0.0120, 0.0090, 0.0132, 0.0099, 0.0143, 0.0114, 0.0155, 0.0126, 0.0167, 0.0137, 0.0173, 0.0149, 0.0185, 0.0158, 0.0197, 0.0173, 0.0209, 0.0179, 0.0217, 0.0191, 0.0232, 0.0203, 0.0238, 0.0214, 0.0250, 0.0226, 0.0238, 0.0099, 0.0143, 0.0173, 0.0099, 0.0069,
           0.0084, 0.0102, 0.0114, 0.0114, 0.0132, 0.0143, 0.0155, 0.0164, 0.0173, 0.0188, 0.0203, 0.0220, 0.0232, 0.0108, 0.0132, 0.0149, 0.0179, 0.0209, 0.0084, 0.0102]

# ---------------- S ----------------
S_LIM = [0.00024, 0.0116]
S_XT = [0.002, 0.004, 0.006, 0.008, 0.010]
S_YT = [0.005, 0.010]
S_OFF = [-0.00015, 0.0008]
S_BEGIN_X = [0.00382, 0.00701, 0.00662, 0.00619, 0.00650, 0.01154, 0.01124, 0.00564, 0.00490, 0.00447, 0.00365, 0.00388, 0.00422, 0.00456, 0.00478, 0.00501, 0.00524, 0.00547, 0.00569, 0.00592, 0.00615, 0.00637, 0.00660, 0.00535, 0.00592, 0.00251, 0.00308, 0.00194, 0.00138, 0.00081,
             0.00399, 0.00444, 0.00467, 0.00512, 0.00558, 0.00581, 0.00603, 0.00626, 0.00649, 0.00671, 0.00342, 0.00228]
S_BEGIN_Y = [0.00559, 0.00430, 0.00422, 0.00641, 0.00657, 0.00592, 0.00625, 0.00267, 0.00186, 0.00202, 0.00194, 0.00308, 0.00365, 0.00422, 0.00308, 0.00478, 0.00388, 0.00535, 0.00456, 0.00558, 0.00501, 0.00592, 0.00535, 0.00251, 0.00365, 0.00138, 0.00081, 0.00115, 0.00081, 0.00047,
             0.00251, 0.00342, 0.00251, 0.00433, 0.00342, 0.00501, 0.00433, 0.00547, 0.00478, 0.00592, 0.00160, 0.00092]
S_MIDDLE_X = [0.00136, 0.00261, 0.00309, 0.00641, 0.00670, 0.00420, 0.00352, 0.00499, 0.00895, 0.01080, 0.00035, 0.00070, 0.00104, 0.00138, 0.00172, 0.00206, 0.00240, 0.00274, 0.00308, 0.00342, 0.00376, 0.00410, 0.00444, 0.00478, 0.00512, 0.00547, 0.00581, 0.00615, 0.00433, 0.00524, 0.00251, 0.00160,
              0.00058, 0.00092, 0.00126, 0.00160, 0.00194, 0.00228, 0.00263, 0.00297, 0.00331, 0.00365, 0.00399, 0.00456, 0.00501, 0.00535, 0.00569, 0.00592, 0.00637]
S_MIDDLE_Y = [0.00430, 0.00455, 0.00568, 0.00600, 0.00494, 0.00146, 0.00114, 0.00292, 0.00616, 0.00494, 0.00081, 0.00138, 0.00160, 0.00194, 0.00149, 0.00217, 0.00183, 0.00251, 0.00228, 0.00308, 0.00274, 0.00365, 0.00331, 0.00410, 0.00365, 0.00456, 0.00433, 0.00512, 0.00251, 0.00274, 0.00115, 0.00070,
              0.00115, 0.00092, 0.00138, 0.00183, 0.00160, 0.00228, 0.00206, 0.00274, 0.00251, 0.00331, 0.00308, 0.00365, 0.00342, 0.00410, 0.00388, 0.00478, 0.00524]
S_END_X = [0.00300, 0.00636, 0.00650, 0.00322, 0.00550, 0.00564, 0.00030, 0.00047, 0.00070, 0.00081, 0.00104, 0.00115, 0.00138, 0.00149, 0.00172, 0.00183, 0.00206, 0.00228, 0.00251, 0.00263, 0.00285, 0.00308, 0.00331, 0.00353, 0.00376, 0.00399, 0.00422, 0.00444, 0.00467, 0.00490, 0.00512, 0.00535, 0.00569, 0.00592, 0.00626, 0.00660, 0.00683, 0.00524, 0.00456, 0.00365,
           0.00035, 0.00058, 0.00092, 0.00126, 0.00160, 0.00194, 0.00217, 0.00240, 0.00274, 0.00297, 0.00319, 0.00342, 0.00388, 0.00410, 0.00433, 0.00478, 0.00501, 0.00547, 0.00603, 0.00649, 0.00115, 0.00251]
S_END_Y = [0.00576, 0.00114, 0.00097, 0.00105, 0.00324, 0.00308, 0.00058, 0.00115, 0.00081, 0.00172, 0.00138, 0.00206, 0.00160, 0.00251, 0.00194, 0.00274, 0.00217, 0.00308, 0.00251, 0.00342, 0.00285, 0.00365, 0.00319, 0.00399, 0.00342, 0.00433, 0.00365, 0.00456, 0.00399, 0.00478, 0.00433, 0.00501, 0.00478, 0.00524, 0.00490, 0.00512, 0.00558, 0.00365, 0.00308, 0.00228,
           0.00092, 0.00138, 0.00115, 0.00183, 0.00228, 0.00251, 0.00297, 0.00274, 0.00319, 0.00331, 0.00399, 0.00365, 0.00388, 0.00456, 0.00410, 0.00433, 0.00512, 0.00478, 0.00547, 0.00501, 0.00070, 0.00160]

# ---------------- Si ----------------
SI_LIM = [0.024, 0.663]
SI_XT = [0.1, 0.2, 0.3, 0.4, 0.5, 0.6]
SI_YT = [0.2, 0.4, 0.6]
SI_OFF = [0.002, 0.0224]
SI_BEGIN_X = [0.2138, 0.2304, 0.1314, 0.2451, 0.4125, 0.4387, 0.4560, 0.5263, 0.5384, 0.5550, 0.4822, 0.6157, 0.6515, 0.0304, 0.0368, 0.0560, 0.0751, 0.0879, 0.1007, 0.1199, 0.1390, 0.1518, 0.1710, 0.1838, 0.2029, 0.2157, 0.2349, 0.2540, 0.2796, 0.3052, 0.3243, 0.5096, 0.5735, 0.5991,
              0.0496, 0.0687, 0.0943, 0.1135, 0.1326, 0.1646, 0.1901, 0.2285, 0.2477, 0.2668, 0.2924, 0.3116, 0.5224, 0.5480, 0.5863, 0.6311]
SI_BEGIN_Y = [0.0560, 0.0604, 0.0515, 0.1384, 0.3799, 0.5122, 0.4438, 0.4624, 0.4758, 0.5077, 0.4713, 0.5902, 0.6355, 0.0304, 0.0496, 0.0432, 0.0623, 0.0560, 0.0751, 0.0879, 0.1007, 0.1135, 0.1326, 0.1199, 0.1518, 0.1646, 0.1901, 0.2029, 0.2285, 0.2604, 0.2924, 0.4969, 0.5480, 0.5672,
              0.0368, 0.0496, 0.0687, 0.0815, 0.0943, 0.1199, 0.1390, 0.1774, 0.1965, 0.2157, 0.2477, 0.2796, 0.4840, 0.5096, 0.5608, 0.6119]
SI_MIDDLE_X = [0.3326, 0.3173, 0.4342, 0.4560, 0.4969, 0.6061, 0.6374, 0.6106, 0.6279, 0.0432, 0.0623, 0.0751, 0.1007, 0.1199, 0.1390, 0.1582, 0.1774, 0.1965, 0.2157, 0.2349, 0.2540, 0.2732, 0.2924, 0.3116, 0.5224, 0.5480, 0.5799,
               0.0496, 0.0879, 0.1071, 0.1262, 0.1454, 0.1646, 0.1838, 0.2029, 0.2221, 0.2413, 0.2604, 0.2796, 0.2988, 0.5352, 0.5608, 0.5927, 0.6183, 0.6438]
SI_MIDDLE_Y = [0.2796, 0.2707, 0.4713, 0.4802, 0.5263, 0.5352, 0.6080, 0.6445, 0.6540, 0.0368, 0.0560, 0.1007, 0.0879, 0.1071, 0.1262, 0.1326, 0.1582, 0.1646, 0.1901, 0.2029, 0.2221, 0.2349, 0.2668, 0.2860, 0.5096, 0.5352, 0.5544,
               0.0496, 0.0751, 0.1007, 0.1199, 0.1390, 0.1518, 0.1774, 0.1838, 0.2093, 0.2285, 0.2349, 0.2540, 0.2796, 0.5033, 0.5480, 0.5735, 0.5863, 0.6183]
SI_END_X = [0.2163, 0.2406, 0.2815, 0.2528, 0.1678, 0.1096, 0.0758, 0.3326, 0.3422, 0.5263, 0.5454, 0.5116, 0.5045, 0.4994, 0.5844, 0.5646, 0.0560, 0.0687, 0.0879, 0.1071, 0.1262, 0.1454, 0.1646, 0.1838, 0.2029, 0.2221, 0.2413, 0.2604, 0.2796, 0.2988, 0.2157, 0.1518, 0.5352, 0.5224, 0.5991,
            0.0432, 0.0623, 0.0815, 0.1007, 0.1199, 0.1390, 0.1582, 0.1774, 0.1965, 0.2157, 0.2349, 0.2540, 0.2732, 0.2924, 0.3052, 0.2668, 0.2477, 0.2860, 0.4969, 0.5160, 0.5416, 0.5544, 0.6119, 0.6311]
SI_END_Y = [0.0694, 0.0968, 0.3346, 0.3160, 0.2157, 0.1748, 0.1473, 0.3569, 0.2981, 0.6445, 0.6266, 0.6080, 0.5716, 0.5441, 0.5397, 0.5806, 0.1007, 0.1199, 0.1326, 0.1390, 0.1646, 0.1774, 0.1965, 0.2157, 0.2349, 0.2540, 0.2732, 0.2860, 0.2988, 0.3116, 0.2029, 0.1390, 0.5991, 0.5608, 0.5735,
            0.0751, 0.0879, 0.1135, 0.1262, 0.1518, 0.1582, 0.1838, 0.1965, 0.2221, 0.2349, 0.2540, 0.2668, 0.2924, 0.2988, 0.3243, 0.3180, 0.2988, 0.3307, 0.5735, 0.5991, 0.6183, 0.5863, 0.5991, 0.6183]

# ---------------- Ti ----------------
TI_LIM = [0.0, 0.0121]
TI_XT = [0.002, 0.004, 0.006, 0.008, 0.010, 0.012]
TI_YT = [0.004, 0.008, 0.012]
TI_OFF = [0.00024, 0.00145]
TI_BEGIN_X = [0.00094, 0.00012, 0.00036, 0.00061, 0.00073, 0.00024]
TI_BEGIN_Y = [0.00030, 0.00012, 0.00024, 0.0, 0.00036, 0.0]
TI_MIDDLE_X = [0.00006, 0.00024, 0.00048, 0.00073, 0.00036]
TI_MIDDLE_Y = [0.00012, 0.00024, 0.00012, 0.00024, 0.0]
TI_END_X = [0.00012, 0.00036, 0.00061, 0.00085, 0.00136, 0.00163, 0.00219, 0.00247, 0.00288, 0.00357, 0.00634, 0.00675, 0.00662, 0.00703, 0.00778, 0.00787, 0.00814]
TI_END_Y = [0.00024, 0.00012, 0.00036, 0.00018, 0.00246, 0.00283, 0.00322, 0.00359, 0.00398, 0.00474, 0.01072, 0.01065, 0.00973, 0.01088, 0.01049, 0.01125, 0.01210]

# ---------------- V ----------------
V_LIM = [0.0417, 0.1317]
V_XT = [0.06, 0.08, 0.10, 0.12]
V_YT = [0.05, 0.075, 0.10, 0.125]
V_OFF = [-0.00765, 0.00585]
V_BEGIN_X = [0.0478, 0.0510, 0.0520, 0.0571, 0.0602, 0.0622, 0.0670, 0.0691, 0.0718, 0.0779, 0.0800, 0.0827, 0.0847, 0.0868, 0.0875, 0.0889, 0.0919, 0.1070, 0.1128, 0.1148, 0.1137, 0.1169, 0.1162, 0.1182, 0.1206, 0.0656, 0.0765, 0.0809]
V_BEGIN_Y = [0.0507, 0.0526, 0.0546, 0.0571, 0.0584, 0.0584, 0.0713, 0.0738, 0.0687, 0.0796, 0.0828, 0.0841, 0.0880, 0.0906, 0.0777, 0.0751, 0.0796, 0.1060, 0.0918, 0.0854, 0.1086, 0.1111, 0.1034, 0.1028, 0.1086, 0.0481, 0.0610, 0.0687]
V_MIDDLE_X = [0.0520, 0.0547, 0.0571, 0.0602, 0.0609, 0.0656, 0.0666, 0.0731, 0.0759, 0.0776, 0.0807, 0.0827, 0.0895, 0.0905, 0.1107, 0.1124, 0.1169, 0.1176, 0.1216]
V_MIDDLE_Y = [0.0494, 0.0443, 0.0494, 0.0520, 0.0443, 0.0494, 0.0558, 0.0636, 0.0610, 0.0687, 0.0713, 0.0693, 0.0790, 0.0848, 0.1021, 0.1028, 0.0867, 0.1053, 0.1034]
V_END_X = [0.0506, 0.0523, 0.0550, 0.0581, 0.0588, 0.0619, 0.0619, 0.0639, 0.0656, 0.0677, 0.0697, 0.0710, 0.0728, 0.0738, 0.0776, 0.0793, 0.0813, 0.0834, 0.0889, 0.0930, 0.0966, 0.0946, 0.1169, 0.1189, 0.1189, 0.1210, 0.1227, 0.1313]
V_END_Y = [0.0456, 0.0468, 0.0468, 0.0558, 0.0507, 0.0558, 0.0443, 0.0481, 0.0642, 0.0687, 0.0713, 0.0623, 0.0533, 0.0687, 0.0777, 0.0713, 0.0738, 0.0783, 0.0854, 0.0906, 0.0867, 0.0906, 0.0931, 0.0996, 0.1143, 0.1208, 0.1182, 0.1208]

ELEMENTS = ["Al", "C", "Ca", "Cr", "Mg", "Mn", "Mo", "N", "P", "S", "Si", "Ti", "V"]
LEGEND_LOC = ["lr", "lr", "ul", "lr", "ul", "lr", "ul", "lr", "ul", "lr", "ul", "ul", "ul"]
PANELS = [
    (AL_LIM, AL_XT, AL_YT, AL_OFF, [(AL_BEGIN_X, AL_BEGIN_Y), (AL_MIDDLE_X, AL_MIDDLE_Y), (AL_END_X, AL_END_Y)]),
    (C_LIM, C_XT, C_YT, C_OFF, [(C_BEGIN_X, C_BEGIN_Y), (C_MIDDLE_X, C_MIDDLE_Y), (C_END_X, C_END_Y)]),
    (CA_LIM, CA_XT, CA_YT, CA_OFF, [(CA_BEGIN_X, CA_BEGIN_Y), (CA_MIDDLE_X, CA_MIDDLE_Y), (CA_END_X, CA_END_Y)]),
    (CR_LIM, CR_XT, CR_YT, CR_OFF, [(CR_BEGIN_X, CR_BEGIN_Y), (CR_MIDDLE_X, CR_MIDDLE_Y), (CR_END_X, CR_END_Y)]),
    (MG_LIM, MG_XT, MG_YT, MG_OFF, [(MG_BEGIN_X, MG_BEGIN_Y), (MG_MIDDLE_X, MG_MIDDLE_Y), (MG_END_X, MG_END_Y)]),
    (MN_LIM, MN_XT, MN_YT, MN_OFF, [(MN_BEGIN_X, MN_BEGIN_Y), (MN_MIDDLE_X, MN_MIDDLE_Y), (MN_END_X, MN_END_Y)]),
    (MO_LIM, MO_XT, MO_YT, MO_OFF, [(MO_BEGIN_X, MO_BEGIN_Y), (MO_MIDDLE_X, MO_MIDDLE_Y), (MO_END_X, MO_END_Y)]),
    (N_LIM, N_XT, N_YT, N_OFF, [(N_BEGIN_X, N_BEGIN_Y), (N_MIDDLE_X, N_MIDDLE_Y), (N_END_X, N_END_Y)]),
    (P_LIM, P_XT, P_YT, P_OFF, [(P_BEGIN_X, P_BEGIN_Y), (P_MIDDLE_X, P_MIDDLE_Y), (P_END_X, P_END_Y)]),
    (S_LIM, S_XT, S_YT, S_OFF, [(S_BEGIN_X, S_BEGIN_Y), (S_MIDDLE_X, S_MIDDLE_Y), (S_END_X, S_END_Y)]),
    (SI_LIM, SI_XT, SI_YT, SI_OFF, [(SI_BEGIN_X, SI_BEGIN_Y), (SI_MIDDLE_X, SI_MIDDLE_Y), (SI_END_X, SI_END_Y)]),
    (TI_LIM, TI_XT, TI_YT, TI_OFF, [(TI_BEGIN_X, TI_BEGIN_Y), (TI_MIDDLE_X, TI_MIDDLE_Y), (TI_END_X, TI_END_Y)]),
    (V_LIM, V_XT, V_YT, V_OFF, [(V_BEGIN_X, V_BEGIN_Y), (V_MIDDLE_X, V_MIDDLE_Y), (V_END_X, V_END_Y)]),
]

# ---------------- layout (pixels) ----------------
COL_LEFT = [92.5, 859.0, 1627.0]
ROW_TOP = [50.0, 412.8, 775.6, 1138.4, 1501.2]
AX_W, AX_H = 641.0, 233.5
COLORS = [C_BEGIN, C_MIDDLE, C_END]
MSIZE, MLW = 20, 2.4
LEG_W, LEG_H, LEG_PAD = 194.0, 133.0, 14.0
LEG_ROWS = [22.0, 64.0, 106.0]

fig = go.Figure()
layout = dict(
    width=W, height=H, margin=dict(l=0, r=0, t=0, b=0),
    paper_bgcolor="white", plot_bgcolor="rgba(255,255,255,0)",
    font=dict(family=FONT, size=FS, color="black"),
    showlegend=False, annotations=[],
)

legend_boxes = []
for i, (el, (lim, xt, yt, off, series)) in enumerate(zip(ELEMENTS, PANELS)):
    n = i + 1
    r, c = divmod(i, 3)
    left = COL_LEFT[c]
    top = ROW_TOP[r]
    x0, x1 = left / W, (left + AX_W) / W
    y1, y0 = 1 - top / H, 1 - (top + AX_H) / H
    xa = "x" if n == 1 else f"x{n}"
    ya = "y" if n == 1 else f"y{n}"
    lo, hi = lim
    common = dict(showgrid=False, zeroline=False, showline=True, mirror=True,
                  linecolor="black", linewidth=2, ticks="outside", ticklen=10,
                  tickwidth=2, tickcolor="black", showticklabels=False,
                  range=[lo, hi], tickmode="array", fixedrange=True)
    layout["xaxis" if n == 1 else f"xaxis{n}"] = dict(domain=[x0, x1], anchor=ya, tickvals=xt, **common)
    layout["yaxis" if n == 1 else f"yaxis{n}"] = dict(domain=[y0, y1], anchor=xa, tickvals=yt, **common)

    for k, (sx, sy) in enumerate(series):
        fig.add_trace(go.Scatter(
            x=sx, y=sy, mode="markers", xaxis=xa, yaxis=ya, name=SERIES[k],
            marker=dict(symbol=SYMBOLS[k], size=MSIZE, color=COLORS[k],
                        line=dict(color=COLORS[k], width=MLW)),
            hoverinfo="skip"))

    # reference lines: y = x (solid), y = x + mean and mean +/- std (dashed)
    fig.add_trace(go.Scatter(x=[lo, hi], y=[lo, hi], mode="lines", xaxis=xa, yaxis=ya,
                             line=dict(color="black", width=2.2), hoverinfo="skip"))
    m, s = off
    for cshift in (m - s, m, m + s):
        fig.add_trace(go.Scatter(x=[lo, hi], y=[lo + cshift, hi + cshift], mode="lines",
                                 xaxis=xa, yaxis=ya,
                                 line=dict(color="black", width=2.2, dash="10px,4px"),
                                 hoverinfo="skip"))

    if LEGEND_LOC[i] == "lr":
        bx = left + AX_W - LEG_PAD - LEG_W
        by = top + AX_H - LEG_PAD - LEG_H
    else:
        bx = left + LEG_PAD
        by = top + LEG_PAD
    legend_boxes.append((bx, by))

    layout["annotations"].append(dict(
        text=f"Measured {el} / wt-%", xref="paper", yref="paper",
        x=(left + AX_W / 2) / W, y=1 - (top + AX_H + 44) / H,
        xanchor="center", yanchor="middle", showarrow=False,
        font=dict(family=FONT, size=FS, color="black")))
    layout["annotations"].append(dict(
        text=f"Simulated {el} / wt-%", xref="paper", yref="paper",
        x=(left - 46) / W, y=1 - (top + AX_H / 2) / H, textangle=-90,
        xanchor="center", yanchor="middle", showarrow=False,
        font=dict(family=FONT, size=FS, color="black")))

# ---------- legends drawn on a full-figure pixel overlay ----------
OV = 14
layout[f"xaxis{OV}"] = dict(domain=[0, 1], range=[0, W], visible=False, fixedrange=True, anchor=f"y{OV}")
layout[f"yaxis{OV}"] = dict(domain=[0, 1], range=[H, 0], visible=False, fixedrange=True, anchor=f"x{OV}")
RAD = 6.0
for bx, by in legend_boxes:
    x2, y2 = bx + LEG_W, by + LEG_H
    px = [bx + RAD, x2 - RAD, x2 - RAD * 0.29, x2, x2, x2 - RAD * 0.29, x2 - RAD, bx + RAD, bx + RAD * 0.29, bx, bx, bx + RAD * 0.29, bx + RAD]
    py = [by, by, by + RAD * 0.29, by + RAD, y2 - RAD, y2 - RAD * 0.29, y2, y2, y2 - RAD * 0.29, y2 - RAD, by + RAD, by + RAD * 0.29, by]
    fig.add_trace(go.Scatter(x=px, y=py, mode="lines", fill="toself",
                             fillcolor="rgba(255,255,255,0.8)",
                             line=dict(color="rgba(204,204,204,0.8)", width=1.5),
                             xaxis=f"x{OV}", yaxis=f"y{OV}", hoverinfo="skip"))
    for k, name in enumerate(SERIES):
        ry = by + LEG_ROWS[k]
        fig.add_trace(go.Scatter(x=[bx + 10, bx + 67], y=[ry, ry], mode="lines",
                                 line=dict(color=COLORS[k], width=3.5),
                                 xaxis=f"x{OV}", yaxis=f"y{OV}", hoverinfo="skip"))
        fig.add_trace(go.Scatter(x=[bx + 38.5], y=[ry], mode="markers",
                                 marker=dict(symbol=SYMBOLS[k], size=MSIZE, color=COLORS[k],
                                             line=dict(color=COLORS[k], width=MLW)),
                                 xaxis=f"x{OV}", yaxis=f"y{OV}", hoverinfo="skip"))
        layout["annotations"].append(dict(
            text=name, xref="paper", yref="paper", x=(bx + 89) / W, y=1 - ry / H,
            xanchor="left", yanchor="middle", showarrow=False,
            font=dict(family=FONT, size=FS, color="black")))

fig.update_layout(**layout)
fig.write_html("out.html")
